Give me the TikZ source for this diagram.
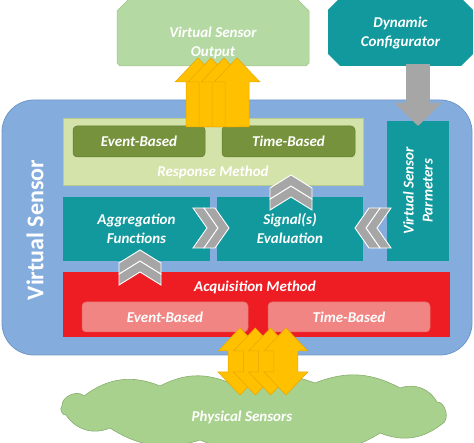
\documentclass[tikz,border=0pt]{standalone}
\usepackage{fontspec}
\setmainfont{Carlito}
\usetikzlibrary{arrows.meta}
\definecolor{vsblue}{HTML}{84ADDE}
\definecolor{vsedge}{HTML}{6F97C9}
\definecolor{outgreen}{HTML}{B5D9A2}
\definecolor{outedge}{HTML}{9CC489}
\definecolor{respgreen}{HTML}{D4E3AA}
\definecolor{respedge}{HTML}{BACB8C}
\definecolor{olive}{HTML}{76923C}
\definecolor{oliveedge}{HTML}{637D30}
\definecolor{teal}{HTML}{12999E}
\definecolor{acqred}{HTML}{EE1D24}
\definecolor{pinkbox}{HTML}{F18583}
\definecolor{pinkedge}{HTML}{E46C6A}
\definecolor{chevgray}{HTML}{A6A6A6}
\definecolor{arrgray}{HTML}{A6A6A6}
\definecolor{amber}{HTML}{FFC000}
\definecolor{amberedge}{HTML}{E9A600}
\definecolor{cloudgreen}{HTML}{A9D18E}
\definecolor{cloudedge}{HTML}{87AE6D}
\begin{document}
\begin{tikzpicture}[x=1pt,y=-1pt,
  lbl/.style={font=\bfseries\itshape\fontsize{15}{19}\selectfont, text=white, align=center, inner sep=0pt},
  box/.style={anchor=north west, inner sep=0pt, outer sep=0pt},
  chev/.style={fill=chevgray, draw=white, line width=0.9pt, line join=miter},
  yarrow/.style={fill=amber, draw=amberedge, line width=0.5pt, line join=miter}]
\useasboundingbox (0,0) rectangle (474,443);

% physical sensors cloud
\draw[fill=cloudgreen, draw=cloudedge, line width=0.6pt]
  (62,406) to[bend left=70] (84,396) to[bend left=30] (160,386) to[bend left=25] (230,383)
  to[bend left=20] (315,383) to[bend left=25] (400,388) to[bend left=40] (437,402)
  to[bend left=80] (442,424) to[bend left=30] (380,433) to[bend left=25] (300,444)
  to[bend left=20] (200,440) to[bend left=25] (110,428) to[bend left=40] (66,415)
  to[bend left=80] cycle;
\node[lbl] (phys) at (242,417) {Physical Sensors};

% top boxes
\fill[outgreen, draw=outedge, line width=0.5pt] (117,63) -- (117,11) -- (129,-1) -- (297,-1) -- (309,11) -- (309,63) -- (306,66) -- (120,66) -- cycle;
\node[lbl] (out) at (213,43) {Virtual Sensor\\Output};

\fill[teal] (328,10) -- (340,-2) -- (461,-2) -- (473,10) -- (473,54) -- (461,66) -- (340,66) -- (328,54) -- cycle;
\node[lbl] (cfg) at (400.5,33) {Dynamic\\Configurator};
\coordinate (cfgb) at (418,64);

% virtual sensor container
\node[box, fill=vsblue, draw=vsedge, line width=0.8pt, rounded corners=32pt, minimum width=470pt, minimum height=255pt] (vs) at (2,100) {};
\node[font=\bfseries\fontsize{24}{28}\selectfont, text=white, rotate=90, inner sep=0pt] (vslbl) at (35,230) {Virtual Sensor};

% response method
\node[box, fill=respgreen, draw=respedge, line width=0.5pt, minimum width=300pt, minimum height=67pt] (resp) at (63,118) {};
\node[lbl] (resplbl) at (213,172) {Response Method};
\node[box, fill=olive, draw=oliveedge, line width=0.5pt, rounded corners=4pt, minimum width=132pt, minimum height=31pt] (revt) at (73,126) {};
\node[lbl] at (revt.center) {Event-Based};
\node[box, fill=olive, draw=oliveedge, line width=0.5pt, rounded corners=4pt, minimum width=133pt, minimum height=31pt] (rtim) at (222,126) {};
\node[lbl] at (rtim.center) {Time-Based};

% parameters
\node[box, fill=teal, minimum width=62pt, minimum height=140pt] (par) at (387,121) {};
\node[lbl, rotate=90] (parlbl) at (418,191) {Virtual Sensor\\Parmeters};

% aggregation & evaluation
\node[box, fill=teal, minimum width=147pt, minimum height=64pt] (agg) at (63,197) {};
\node[lbl] at (agg.center) {Aggregation\\Functions};
\node[box, fill=teal, minimum width=146pt, minimum height=64pt] (sig) at (217,197) {};
\node[lbl] at (sig.center) {Signal(s)\\Evaluation};

% acquisition
\node[box, fill=acqred, minimum width=387pt, minimum height=65pt] (acq) at (63,272) {};
\node[lbl] (acqlbl) at (255,287) {Acquisition Method};
\node[box, fill=pinkbox, draw=pinkedge, line width=0.5pt, rounded corners=4pt, minimum width=166pt, minimum height=30pt] (aevt) at (82,302) {};
\node[lbl] at (aevt.center) {Event-Based};
\node[box, fill=pinkbox, draw=pinkedge, line width=0.5pt, rounded corners=4pt, minimum width=162pt, minimum height=30pt] (atim) at (268,302) {};
\node[lbl] at (atim.center) {Time-Based};

% chevrons: aggregation -> evaluation (right)
\foreach \i in {0,1}{
  \draw[chev] ({193+11*\i},208) -- ({204+11*\i},208) -- ({218+11*\i},228) -- ({204+11*\i},248) -- ({193+11*\i},248) -- ({207+11*\i},228) -- cycle;
}
% parameters -> evaluation (left)
\foreach \i in {0,1}{
  \draw[chev] ({391-11*\i},208) -- ({380-11*\i},208) -- ({366-11*\i},228) -- ({380-11*\i},248) -- ({391-11*\i},248) -- ({377-11*\i},228) -- cycle;
}
% evaluation -> response (up)
\foreach \i in {0,1}{
  \draw[chev] (270,{210-11*\i}) -- (291,{197-11*\i}) -- (312,{210-11*\i}) -- (312,{199-11*\i}) -- (291,{186-11*\i}) -- (270,{199-11*\i}) -- cycle;
}
% acquisition -> aggregation (up)
\foreach \i in {0,1}{
  \draw[chev] (119,{285-11*\i}) -- (140,{272-11*\i}) -- (161,{285-11*\i}) -- (161,{274-11*\i}) -- (140,{261-11*\i}) -- (119,{274-11*\i}) -- cycle;
}

% configurator -> parameters
\draw[arrgray, line width=24pt, -{Triangle[length=23pt,width=46pt]}] (par.north |- cfgb) -- ([yshift=-5pt]par.north);

% response -> output (stacked block arrows)
\foreach \i in {0,1,2,3}{
  \pgfmathsetmacro{\cx}{198+13*\i}
  \draw[yarrow] (\cx,58) -- (\cx+23,82) -- (\cx+12,82) -- (\cx+12,127) -- (\cx-12,127) -- (\cx-12,82) -- (\cx-23,82) -- cycle;
}
% acquisition <-> physical sensors (stacked double arrows)
\foreach \i in {0,1,2,3}{
  \pgfmathsetmacro{\cx}{240+15.3*\i}
  \draw[yarrow] (\cx,328) -- (\cx+22,351) -- (\cx+12,351) -- (\cx+12,372) -- (\cx+22,372) -- (\cx,395) -- (\cx-22,372) -- (\cx-12,372) -- (\cx-12,351) -- (\cx-22,351) -- cycle;
}
\end{tikzpicture}
\end{document}
